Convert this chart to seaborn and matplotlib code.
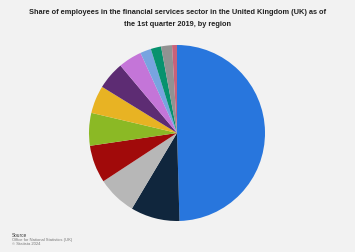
import matplotlib
matplotlib.use("Agg")
import matplotlib.pyplot as plt
import seaborn as sns

regions = ["London", "South East", "Scotland", "North West", "East of England",
           "Yorkshire and the Humber", "South West", "West Midlands",
           "East Midlands", "Wales", "North East", "Northern Ireland"]
shares = [49.5, 9.0, 7.2, 6.9, 6.0, 5.1, 5.1, 4.3, 2.0, 1.9, 2.0, 0.9]
colors = ["#2876dd", "#10263d", "#b7b7b7", "#a10a0a", "#8bb925", "#e8b323",
          "#5d2c73", "#c475d8", "#78a4e0", "#07926e", "#929292", "#c8627a"]

sns.set_theme(style="white")
plt.rcParams['font.family'] = ['Liberation Sans', 'DejaVu Sans']

W, H = 355, 253
fig = plt.figure(figsize=(W / 100, H / 100), dpi=100)
fig.patch.set_facecolor("#f2f2f2")

cx, cy, r = 177, 134, 88
ax = fig.add_axes([(cx - r) / W, (H - cy - r) / H, 2 * r / W, 2 * r / H])
ax.set_facecolor("#f2f2f2")
ax.pie(shares, colors=sns.color_palette(colors), startangle=90, counterclock=False,
       radius=1, wedgeprops=dict(linewidth=0))
ax.set_xlim(-1, 1)
ax.set_ylim(-1, 1)
ax.set_aspect("equal")
ax.axis("off")

fig.text(0.5, 1 - 12.5 / H,
         "Share of employees in the financial services sector in the United Kingdom (UK) as of",
         ha="center", va="center", fontsize=5.35, fontweight="bold", color="#222222")
fig.text(0.5, 1 - 24 / H, "the 1st quarter 2019, by region",
         ha="center", va="center", fontsize=5.35, fontweight="bold", color="#222222")

fig.text(12 / W, 1 - 235.5 / H, "Source", ha="left", va="center", fontsize=3.4, color="#333333")
fig.text(12 / W, 1 - 240 / H, "Office for National Statistics (UK)", ha="left", va="center",
         fontsize=3.0, color="#777777")
fig.text(12 / W, 1 - 244.5 / H, "© Statista 2024", ha="left", va="center",
         fontsize=3.0, color="#777777")

fig.savefig("out.png", dpi=100, facecolor=fig.get_facecolor())
